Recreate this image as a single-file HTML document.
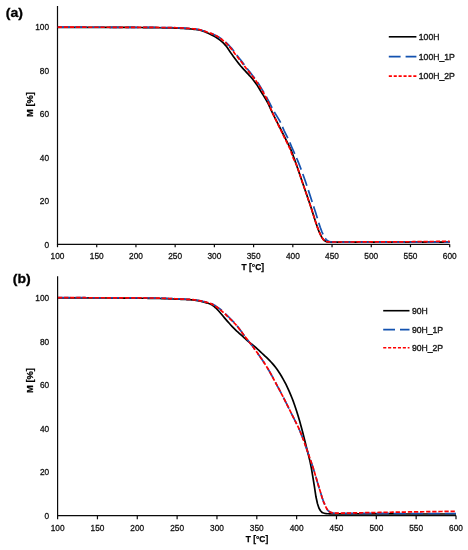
<!DOCTYPE html>
<html><head><meta charset="utf-8"><title>TGA curves</title>
<style>
html,body{margin:0;padding:0;background:#fff;}
svg{display:block}
text{font-family:"Liberation Sans",sans-serif;fill:#1a1a1a}
.tk{font-size:9.4px;fill:#111;stroke:#111;stroke-width:0.3px}
.lg{font-size:9.4px;stroke:#1a1a1a;stroke-width:0.4px}
.al{font-size:8.4px;font-weight:bold;fill:#000;stroke:#000;stroke-width:0.25px}
.yl{font-size:9.3px}
.tt{font-size:12.5px;font-weight:bold;fill:#000;stroke:#000;stroke-width:0.3px}
</style></head>
<body>
<svg width="468" height="550" viewBox="0 0 468 550">
<rect width="468" height="550" fill="#fff"/>
<path d="M57.5 6.1 V244.3 H449.7" fill="none" stroke="#0a0a0a" stroke-width="1.2"/>
<path d="M57.50 244.3 v2.9" stroke="#0a0a0a" stroke-width="1.2"/>
<text class="tk" transform="translate(57.50 258.9) scale(0.885 1)" text-anchor="middle">100</text>
<path d="M96.72 244.3 v2.9" stroke="#0a0a0a" stroke-width="1.2"/>
<text class="tk" transform="translate(96.72 258.9) scale(0.885 1)" text-anchor="middle">150</text>
<path d="M135.94 244.3 v2.9" stroke="#0a0a0a" stroke-width="1.2"/>
<text class="tk" transform="translate(135.94 258.9) scale(0.885 1)" text-anchor="middle">200</text>
<path d="M175.16 244.3 v2.9" stroke="#0a0a0a" stroke-width="1.2"/>
<text class="tk" transform="translate(175.16 258.9) scale(0.885 1)" text-anchor="middle">250</text>
<path d="M214.38 244.3 v2.9" stroke="#0a0a0a" stroke-width="1.2"/>
<text class="tk" transform="translate(214.38 258.9) scale(0.885 1)" text-anchor="middle">300</text>
<path d="M253.60 244.3 v2.9" stroke="#0a0a0a" stroke-width="1.2"/>
<text class="tk" transform="translate(253.60 258.9) scale(0.885 1)" text-anchor="middle">350</text>
<path d="M292.82 244.3 v2.9" stroke="#0a0a0a" stroke-width="1.2"/>
<text class="tk" transform="translate(292.82 258.9) scale(0.885 1)" text-anchor="middle">400</text>
<path d="M332.04 244.3 v2.9" stroke="#0a0a0a" stroke-width="1.2"/>
<text class="tk" transform="translate(332.04 258.9) scale(0.885 1)" text-anchor="middle">450</text>
<path d="M371.26 244.3 v2.9" stroke="#0a0a0a" stroke-width="1.2"/>
<text class="tk" transform="translate(371.26 258.9) scale(0.885 1)" text-anchor="middle">500</text>
<path d="M410.48 244.3 v2.9" stroke="#0a0a0a" stroke-width="1.2"/>
<text class="tk" transform="translate(410.48 258.9) scale(0.885 1)" text-anchor="middle">550</text>
<path d="M449.70 244.3 v2.9" stroke="#0a0a0a" stroke-width="1.2"/>
<text class="tk" transform="translate(449.70 258.9) scale(0.885 1)" text-anchor="middle">600</text>
<text class="tk" transform="translate(49.10 247.50) scale(0.885 1)" text-anchor="end">0</text>
<text class="tk" transform="translate(49.10 204.06) scale(0.885 1)" text-anchor="end">20</text>
<text class="tk" transform="translate(49.10 160.62) scale(0.885 1)" text-anchor="end">40</text>
<text class="tk" transform="translate(49.10 117.18) scale(0.885 1)" text-anchor="end">60</text>
<text class="tk" transform="translate(49.10 73.74) scale(0.885 1)" text-anchor="end">80</text>
<text class="tk" transform="translate(49.10 30.30) scale(0.885 1)" text-anchor="end">100</text>
<path d="M57.7 27.30 L59.2 27.30 L60.7 27.30 L62.2 27.30 L63.7 27.30 L65.2 27.30 L66.7 27.30 L68.2 27.30 L69.7 27.30 L71.2 27.31 L72.7 27.31 L74.2 27.31 L75.7 27.31 L77.2 27.31 L78.7 27.31 L80.2 27.31 L81.7 27.32 L83.2 27.32 L84.7 27.32 L86.2 27.32 L87.7 27.33 L89.2 27.33 L90.7 27.33 L92.2 27.33 L93.7 27.34 L95.2 27.34 L96.7 27.34 L98.2 27.35 L99.7 27.35 L101.2 27.35 L102.7 27.36 L104.2 27.36 L105.7 27.36 L107.2 27.37 L108.7 27.37 L110.2 27.37 L111.7 27.38 L113.2 27.38 L114.7 27.39 L116.2 27.39 L117.7 27.39 L119.2 27.40 L120.7 27.40 L122.2 27.41 L123.7 27.41 L125.2 27.42 L126.7 27.42 L128.2 27.43 L129.7 27.44 L131.2 27.45 L132.7 27.46 L134.2 27.47 L135.7 27.48 L137.2 27.49 L138.7 27.50 L140.2 27.51 L141.7 27.52 L143.2 27.54 L144.7 27.55 L146.2 27.56 L147.7 27.58 L149.2 27.60 L150.7 27.61 L152.2 27.63 L153.7 27.65 L155.2 27.67 L156.7 27.69 L158.2 27.71 L159.7 27.73 L161.2 27.75 L162.7 27.78 L164.2 27.80 L165.7 27.82 L167.2 27.85 L168.7 27.88 L170.2 27.90 L171.7 27.94 L173.2 27.98 L174.7 28.03 L176.2 28.08 L177.7 28.15 L179.2 28.22 L180.7 28.30 L182.2 28.38 L183.7 28.47 L185.2 28.57 L186.7 28.66 L188.2 28.77 L189.7 28.88 L191.2 28.99 L192.7 29.13 L194.2 29.29 L195.7 29.47 L197.2 29.69 L198.7 29.94 L200.2 30.28 L201.7 30.72 L203.2 31.25 L204.7 31.83 L206.2 32.43 L207.7 33.05 L209.2 33.70 L210.7 34.40 L212.2 35.16 L213.7 35.98 L215.2 36.86 L216.7 37.80 L218.2 38.82 L219.7 39.93 L221.2 41.14 L222.7 42.46 L224.2 43.90 L225.7 45.58 L227.2 47.55 L228.7 49.69 L230.2 51.91 L231.7 54.11 L233.2 56.18 L234.7 58.20 L236.2 60.20 L237.7 62.19 L239.2 64.12 L240.7 65.96 L242.2 67.67 L243.7 69.32 L245.2 70.95 L246.7 72.59 L248.2 74.19 L249.7 75.81 L251.2 77.52 L252.7 79.31 L254.2 81.19 L255.7 83.18 L257.2 85.33 L258.7 87.72 L260.2 90.23 L261.7 92.74 L263.2 95.14 L264.7 97.52 L266.2 100.01 L267.7 102.76 L269.2 105.93 L270.7 109.22 L272.2 112.34 L273.7 115.35 L275.2 118.33 L276.7 121.30 L278.2 124.28 L279.7 127.25 L281.2 130.21 L282.7 133.20 L284.2 136.19 L285.7 139.20 L287.2 142.17 L288.7 145.03 L290.2 148.07 L291.7 151.61 L293.2 155.70 L294.7 159.89 L296.2 164.17 L297.7 168.52 L299.2 172.90 L300.7 177.30 L302.2 181.69 L303.7 186.06 L305.2 190.42 L306.7 194.79 L308.2 199.16 L309.7 203.55 L311.2 208.00 L312.7 212.67 L314.2 217.45 L315.7 222.16 L317.2 226.60 L318.7 230.60 L320.2 234.13 L321.7 237.25 L323.2 239.31 L324.7 240.81 L326.2 241.54 L327.7 241.81 L329.2 242.00 L330.7 242.09 L332.2 242.10 L333.7 242.11 L335.2 242.11 L336.7 242.11 L338.2 242.12 L339.7 242.12 L341.2 242.12 L342.7 242.13 L344.2 242.13 L345.7 242.13 L347.2 242.13 L348.7 242.14 L350.2 242.14 L351.7 242.14 L353.2 242.14 L354.7 242.15 L356.2 242.15 L357.7 242.15 L359.2 242.15 L360.7 242.16 L362.2 242.16 L363.7 242.16 L365.2 242.16 L366.7 242.16 L368.2 242.17 L369.7 242.17 L371.2 242.17 L372.7 242.17 L374.2 242.17 L375.7 242.17 L377.2 242.17 L378.7 242.18 L380.2 242.18 L381.7 242.18 L383.2 242.18 L384.7 242.18 L386.2 242.18 L387.7 242.18 L389.2 242.18 L390.7 242.19 L392.2 242.19 L393.7 242.19 L395.2 242.19 L396.7 242.19 L398.2 242.19 L399.7 242.19 L401.2 242.19 L402.7 242.19 L404.2 242.19 L405.7 242.19 L407.2 242.19 L408.7 242.19 L410.2 242.20 L411.7 242.20 L413.2 242.20 L414.7 242.20 L416.2 242.20 L417.7 242.20 L419.2 242.20 L420.7 242.20 L422.2 242.20 L423.7 242.20 L425.2 242.20 L426.7 242.20 L428.2 242.20 L429.7 242.20 L431.2 242.20 L432.7 242.20 L434.2 242.20 L435.7 242.20 L437.2 242.20 L438.7 242.20 L440.2 242.20 L441.7 242.20 L443.2 242.20 L444.7 242.20 L446.2 242.20 L447.7 242.20 L449.2 242.20 L449.7 242.20" fill="none" stroke="#000" stroke-width="1.7" stroke-linejoin="round"/>
<path d="M57.7 27.20 L59.2 27.20 L60.7 27.20 L62.2 27.20 L63.7 27.20 L65.2 27.20 L66.7 27.20 L68.2 27.20 L69.7 27.20 L71.2 27.21 L72.7 27.21 L74.2 27.21 L75.7 27.21 L77.2 27.21 L78.7 27.21 L80.2 27.22 L81.7 27.22 L83.2 27.22 L84.7 27.22 L86.2 27.23 L87.7 27.23 L89.2 27.23 L90.7 27.23 L92.2 27.24 L93.7 27.24 L95.2 27.24 L96.7 27.24 L98.2 27.25 L99.7 27.25 L101.2 27.25 L102.7 27.26 L104.2 27.26 L105.7 27.26 L107.2 27.27 L108.7 27.27 L110.2 27.28 L111.7 27.28 L113.2 27.28 L114.7 27.29 L116.2 27.29 L117.7 27.29 L119.2 27.30 L120.7 27.30 L122.2 27.31 L123.7 27.31 L125.2 27.31 L126.7 27.32 L128.2 27.32 L129.7 27.33 L131.2 27.33 L132.7 27.34 L134.2 27.34 L135.7 27.35 L137.2 27.36 L138.7 27.36 L140.2 27.37 L141.7 27.38 L143.2 27.38 L144.7 27.39 L146.2 27.40 L147.7 27.41 L149.2 27.42 L150.7 27.43 L152.2 27.44 L153.7 27.45 L155.2 27.46 L156.7 27.47 L158.2 27.48 L159.7 27.49 L161.2 27.51 L162.7 27.52 L164.2 27.54 L165.7 27.55 L167.2 27.57 L168.7 27.58 L170.2 27.60 L171.7 27.63 L173.2 27.66 L174.7 27.70 L176.2 27.75 L177.7 27.81 L179.2 27.87 L180.7 27.94 L182.2 28.02 L183.7 28.10 L185.2 28.19 L186.7 28.28 L188.2 28.38 L189.7 28.48 L191.2 28.59 L192.7 28.73 L194.2 28.89 L195.7 29.08 L197.2 29.29 L198.7 29.53 L200.2 29.85 L201.7 30.24 L203.2 30.69 L204.7 31.19 L206.2 31.69 L207.7 32.20 L209.2 32.73 L210.7 33.28 L212.2 33.87 L213.7 34.51 L215.2 35.20 L216.7 35.97 L218.2 36.82 L219.7 37.75 L221.2 38.76 L222.7 39.84 L224.2 41.00 L225.7 42.25 L227.2 43.63 L228.7 45.11 L230.2 46.71 L231.7 48.41 L233.2 50.24 L234.7 52.39 L236.2 54.37 L237.7 56.28 L239.2 58.16 L240.7 60.09 L242.2 62.07 L243.7 64.06 L245.2 66.04 L246.7 68.00 L248.2 69.95 L249.7 71.89 L251.2 73.83 L252.7 75.73 L254.2 77.63 L255.7 79.59 L257.2 81.71 L258.7 83.99 L260.2 86.38 L261.7 88.83 L263.2 91.35 L264.7 93.94 L266.2 96.59 L267.7 99.32 L269.2 102.15 L270.7 105.11 L272.2 108.06 L273.7 110.88 L275.2 113.47 L276.7 115.90 L278.2 118.33 L279.7 120.91 L281.2 123.81 L282.7 127.37 L284.2 130.87 L285.7 133.93 L287.2 136.87 L288.7 139.93 L290.2 143.36 L291.7 146.97 L293.2 150.40 L294.7 153.77 L296.2 157.15 L297.7 160.60 L299.2 164.34 L300.7 168.27 L302.2 172.33 L303.7 176.50 L305.2 180.83 L306.7 185.30 L308.2 189.81 L309.7 194.38 L311.2 198.99 L312.7 203.61 L314.2 208.23 L315.7 212.85 L317.2 217.71 L318.7 222.62 L320.2 227.26 L321.7 231.32 L323.2 234.87 L324.7 237.81 L326.2 239.54 L327.7 240.86 L329.2 241.67 L330.7 241.89 L332.2 242.01 L333.7 242.08 L335.2 242.10 L336.7 242.10 L338.2 242.10 L339.7 242.10 L341.2 242.10 L342.7 242.10 L344.2 242.10 L345.7 242.10 L347.2 242.10 L348.7 242.10 L350.2 242.10 L351.7 242.10 L353.2 242.10 L354.7 242.10 L356.2 242.10 L357.7 242.10 L359.2 242.10 L360.7 242.10 L362.2 242.10 L363.7 242.10 L365.2 242.10 L366.7 242.10 L368.2 242.10 L369.7 242.10 L371.2 242.10 L372.7 242.10 L374.2 242.10 L375.7 242.10 L377.2 242.10 L378.7 242.10 L380.2 242.10 L381.7 242.10 L383.2 242.10 L384.7 242.10 L386.2 242.10 L387.7 242.10 L389.2 242.10 L390.7 242.10 L392.2 242.10 L393.7 242.10 L395.2 242.10 L396.7 242.10 L398.2 242.10 L399.7 242.10 L401.2 242.10 L402.7 242.10 L404.2 242.10 L405.7 242.10 L407.2 242.10 L408.7 242.10 L410.2 242.10 L411.7 242.10 L413.2 242.10 L414.7 242.10 L416.2 242.10 L417.7 242.10 L419.2 242.10 L420.7 242.10 L422.2 242.10 L423.7 242.10 L425.2 242.10 L426.7 242.10 L428.2 242.10 L429.7 242.10 L431.2 242.10 L432.7 242.10 L434.2 242.10 L435.7 242.10 L437.2 242.10 L438.7 242.10 L440.2 242.10 L441.7 242.10 L443.2 242.10 L444.7 242.10 L446.2 242.10 L447.7 242.10 L449.2 242.10 L449.7 242.10" fill="none" stroke="#1352b0" stroke-width="1.7" stroke-dasharray="12.5 4.6" stroke-linejoin="round"/>
<path d="M57.7 27.20 L59.2 27.20 L60.7 27.20 L62.2 27.20 L63.7 27.20 L65.2 27.20 L66.7 27.20 L68.2 27.20 L69.7 27.20 L71.2 27.21 L72.7 27.21 L74.2 27.21 L75.7 27.21 L77.2 27.21 L78.7 27.21 L80.2 27.22 L81.7 27.22 L83.2 27.22 L84.7 27.22 L86.2 27.23 L87.7 27.23 L89.2 27.23 L90.7 27.23 L92.2 27.24 L93.7 27.24 L95.2 27.24 L96.7 27.24 L98.2 27.25 L99.7 27.25 L101.2 27.25 L102.7 27.26 L104.2 27.26 L105.7 27.26 L107.2 27.27 L108.7 27.27 L110.2 27.28 L111.7 27.28 L113.2 27.28 L114.7 27.29 L116.2 27.29 L117.7 27.29 L119.2 27.30 L120.7 27.30 L122.2 27.31 L123.7 27.31 L125.2 27.31 L126.7 27.32 L128.2 27.32 L129.7 27.33 L131.2 27.33 L132.7 27.34 L134.2 27.34 L135.7 27.35 L137.2 27.36 L138.7 27.36 L140.2 27.37 L141.7 27.38 L143.2 27.38 L144.7 27.39 L146.2 27.40 L147.7 27.41 L149.2 27.42 L150.7 27.43 L152.2 27.44 L153.7 27.45 L155.2 27.46 L156.7 27.47 L158.2 27.48 L159.7 27.49 L161.2 27.51 L162.7 27.52 L164.2 27.54 L165.7 27.55 L167.2 27.57 L168.7 27.58 L170.2 27.60 L171.7 27.63 L173.2 27.66 L174.7 27.70 L176.2 27.75 L177.7 27.81 L179.2 27.87 L180.7 27.94 L182.2 28.02 L183.7 28.10 L185.2 28.19 L186.7 28.28 L188.2 28.38 L189.7 28.48 L191.2 28.59 L192.7 28.73 L194.2 28.89 L195.7 29.08 L197.2 29.29 L198.7 29.53 L200.2 29.85 L201.7 30.24 L203.2 30.69 L204.7 31.19 L206.2 31.69 L207.7 32.20 L209.2 32.72 L210.7 33.27 L212.2 33.86 L213.7 34.50 L215.2 35.20 L216.7 35.99 L218.2 36.89 L219.7 37.89 L221.2 38.99 L222.7 40.16 L224.2 41.40 L225.7 42.75 L227.2 44.24 L228.7 45.85 L230.2 47.57 L231.7 49.36 L233.2 51.26 L234.7 53.39 L236.2 55.37 L237.7 57.28 L239.2 59.16 L240.7 61.09 L242.2 63.07 L243.7 65.06 L245.2 67.04 L246.7 69.00 L248.2 70.95 L249.7 72.89 L251.2 74.83 L252.7 76.73 L254.2 78.61 L255.7 80.58 L257.2 82.73 L258.7 85.06 L260.2 87.51 L261.7 90.03 L263.2 92.54 L264.7 95.08 L266.2 97.81 L267.7 100.89 L269.2 104.60 L270.7 108.51 L272.2 112.07 L273.7 115.37 L275.2 118.56 L276.7 121.71 L278.2 124.83 L279.7 127.91 L281.2 130.97 L282.7 134.05 L284.2 137.12 L285.7 140.19 L287.2 143.17 L288.7 146.11 L290.2 149.40 L291.7 153.68 L293.2 158.02 L294.7 161.06 L296.2 164.07 L297.7 168.00 L299.2 172.48 L300.7 177.16 L302.2 181.69 L303.7 186.06 L305.2 190.42 L306.7 194.79 L308.2 199.16 L309.7 203.55 L311.2 208.00 L312.7 212.67 L314.2 217.45 L315.7 222.16 L317.2 226.60 L318.7 230.60 L320.2 234.13 L321.7 237.25 L323.2 239.31 L324.7 240.83 L326.2 241.54 L327.7 241.77 L329.2 241.92 L330.7 241.99 L332.2 242.00 L333.7 242.00 L335.2 242.00 L336.7 242.00 L338.2 242.00 L339.7 242.00 L341.2 241.99 L342.7 241.99 L344.2 241.99 L345.7 241.99 L347.2 241.99 L348.7 241.98 L350.2 241.98 L351.7 241.98 L353.2 241.97 L354.7 241.97 L356.2 241.97 L357.7 241.96 L359.2 241.96 L360.7 241.95 L362.2 241.95 L363.7 241.95 L365.2 241.94 L366.7 241.94 L368.2 241.93 L369.7 241.93 L371.2 241.92 L372.7 241.92 L374.2 241.91 L375.7 241.90 L377.2 241.90 L378.7 241.89 L380.2 241.89 L381.7 241.88 L383.2 241.87 L384.7 241.87 L386.2 241.86 L387.7 241.86 L389.2 241.85 L390.7 241.84 L392.2 241.84 L393.7 241.83 L395.2 241.82 L396.7 241.82 L398.2 241.81 L399.7 241.80 L401.2 241.79 L402.7 241.79 L404.2 241.78 L405.7 241.77 L407.2 241.76 L408.7 241.75 L410.2 241.74 L411.7 241.73 L413.2 241.71 L414.7 241.70 L416.2 241.69 L417.7 241.67 L419.2 241.66 L420.7 241.64 L422.2 241.63 L423.7 241.61 L425.2 241.60 L426.7 241.58 L428.2 241.57 L429.7 241.55 L431.2 241.53 L432.7 241.51 L434.2 241.50 L435.7 241.48 L437.2 241.46 L438.7 241.44 L440.2 241.42 L441.7 241.40 L443.2 241.38 L444.7 241.36 L446.2 241.35 L447.7 241.33 L449.2 241.31 L449.7 241.30" fill="none" stroke="#ff0000" stroke-width="1.7" stroke-dasharray="4.3 1.8" stroke-linejoin="round"/>
<path d="M388.8 36.8 H416.4" stroke="#000" stroke-width="1.6"/>
<text class="lg" transform="translate(418.8 39.70) scale(0.92 1)">100H</text>
<path d="M388.8 56.6 H416.4" stroke="#1352b0" stroke-width="1.6" stroke-dasharray="11.8 5"/>
<text class="lg" transform="translate(418.8 59.50) scale(0.92 1)">100H_1P</text>
<path d="M388.8 76.1 H416.4" stroke="#ff0000" stroke-width="1.6" stroke-dasharray="3.1 1.8"/>
<text class="lg" transform="translate(418.8 79.00) scale(0.92 1)">100H_2P</text>
<text class="tt" transform="translate(5.7 17.3) scale(1.125 1)">(a)</text>
<text class="al yl" transform="translate(33.1 104.5) rotate(-90) scale(1 0.95)" text-anchor="middle">M [%]</text>
<text class="al" x="252.8" y="270" text-anchor="middle">T [°C]</text>
<path d="M57.6 276.2 V515.6 H456" fill="none" stroke="#0a0a0a" stroke-width="1.2"/>
<path d="M57.60 515.6 v3.7" stroke="#0a0a0a" stroke-width="1.2"/>
<text class="tk" transform="translate(57.60 530.9) scale(0.885 1)" text-anchor="middle">100</text>
<path d="M97.44 515.6 v3.7" stroke="#0a0a0a" stroke-width="1.2"/>
<text class="tk" transform="translate(97.44 530.9) scale(0.885 1)" text-anchor="middle">150</text>
<path d="M137.28 515.6 v3.7" stroke="#0a0a0a" stroke-width="1.2"/>
<text class="tk" transform="translate(137.28 530.9) scale(0.885 1)" text-anchor="middle">200</text>
<path d="M177.12 515.6 v3.7" stroke="#0a0a0a" stroke-width="1.2"/>
<text class="tk" transform="translate(177.12 530.9) scale(0.885 1)" text-anchor="middle">250</text>
<path d="M216.96 515.6 v3.7" stroke="#0a0a0a" stroke-width="1.2"/>
<text class="tk" transform="translate(216.96 530.9) scale(0.885 1)" text-anchor="middle">300</text>
<path d="M256.80 515.6 v3.7" stroke="#0a0a0a" stroke-width="1.2"/>
<text class="tk" transform="translate(256.80 530.9) scale(0.885 1)" text-anchor="middle">350</text>
<path d="M296.64 515.6 v3.7" stroke="#0a0a0a" stroke-width="1.2"/>
<text class="tk" transform="translate(296.64 530.9) scale(0.885 1)" text-anchor="middle">400</text>
<path d="M336.48 515.6 v3.7" stroke="#0a0a0a" stroke-width="1.2"/>
<text class="tk" transform="translate(336.48 530.9) scale(0.885 1)" text-anchor="middle">450</text>
<path d="M376.32 515.6 v3.7" stroke="#0a0a0a" stroke-width="1.2"/>
<text class="tk" transform="translate(376.32 530.9) scale(0.885 1)" text-anchor="middle">500</text>
<path d="M416.16 515.6 v3.7" stroke="#0a0a0a" stroke-width="1.2"/>
<text class="tk" transform="translate(416.16 530.9) scale(0.885 1)" text-anchor="middle">550</text>
<path d="M456.00 515.6 v3.7" stroke="#0a0a0a" stroke-width="1.2"/>
<text class="tk" transform="translate(456.00 530.9) scale(0.885 1)" text-anchor="middle">600</text>
<text class="tk" transform="translate(49.20 518.80) scale(0.885 1)" text-anchor="end">0</text>
<text class="tk" transform="translate(49.20 475.24) scale(0.885 1)" text-anchor="end">20</text>
<text class="tk" transform="translate(49.20 431.68) scale(0.885 1)" text-anchor="end">40</text>
<text class="tk" transform="translate(49.20 388.12) scale(0.885 1)" text-anchor="end">60</text>
<text class="tk" transform="translate(49.20 344.56) scale(0.885 1)" text-anchor="end">80</text>
<text class="tk" transform="translate(49.20 301.00) scale(0.885 1)" text-anchor="end">100</text>
<path d="M58.0 297.90 L59.5 297.90 L61.0 297.90 L62.5 297.90 L64.0 297.90 L65.5 297.90 L67.0 297.90 L68.5 297.91 L70.0 297.91 L71.5 297.91 L73.0 297.91 L74.5 297.91 L76.0 297.92 L77.5 297.92 L79.0 297.92 L80.5 297.92 L82.0 297.93 L83.5 297.93 L85.0 297.93 L86.5 297.94 L88.0 297.94 L89.5 297.95 L91.0 297.95 L92.5 297.96 L94.0 297.96 L95.5 297.97 L97.0 297.97 L98.5 297.98 L100.0 297.98 L101.5 297.99 L103.0 298.00 L104.5 298.00 L106.0 298.01 L107.5 298.02 L109.0 298.02 L110.5 298.03 L112.0 298.04 L113.5 298.05 L115.0 298.05 L116.5 298.06 L118.0 298.07 L119.5 298.08 L121.0 298.09 L122.5 298.10 L124.0 298.11 L125.5 298.11 L127.0 298.12 L128.5 298.13 L130.0 298.14 L131.5 298.15 L133.0 298.17 L134.5 298.18 L136.0 298.19 L137.5 298.20 L139.0 298.21 L140.5 298.22 L142.0 298.23 L143.5 298.25 L145.0 298.26 L146.5 298.27 L148.0 298.28 L149.5 298.30 L151.0 298.31 L152.5 298.33 L154.0 298.35 L155.5 298.38 L157.0 298.41 L158.5 298.45 L160.0 298.49 L161.5 298.53 L163.0 298.58 L164.5 298.63 L166.0 298.68 L167.5 298.74 L169.0 298.80 L170.5 298.86 L172.0 298.92 L173.5 298.98 L175.0 299.05 L176.5 299.11 L178.0 299.18 L179.5 299.25 L181.0 299.32 L182.5 299.39 L184.0 299.45 L185.5 299.52 L187.0 299.59 L188.5 299.66 L190.0 299.75 L191.5 299.84 L193.0 299.96 L194.5 300.10 L196.0 300.31 L197.5 300.58 L199.0 300.88 L200.5 301.22 L202.0 301.58 L203.5 302.01 L205.0 302.50 L206.5 302.91 L208.0 303.30 L209.5 303.76 L211.0 304.38 L212.5 305.30 L214.0 306.45 L215.5 307.73 L217.0 309.14 L218.5 310.78 L220.0 312.53 L221.5 314.26 L223.0 316.03 L224.5 317.84 L226.0 319.62 L227.5 321.35 L229.0 323.04 L230.5 324.71 L232.0 326.31 L233.5 327.86 L235.0 329.37 L236.5 330.84 L238.0 332.24 L239.5 333.58 L241.0 334.89 L242.5 336.21 L244.0 337.58 L245.5 338.96 L247.0 340.32 L248.5 341.60 L250.0 342.81 L251.5 343.98 L253.0 345.15 L254.5 346.38 L256.0 347.69 L257.5 349.07 L259.0 350.46 L260.5 351.86 L262.0 353.25 L263.5 354.64 L265.0 356.01 L266.5 357.41 L268.0 358.90 L269.5 360.43 L271.0 362.00 L272.5 363.65 L274.0 365.40 L275.5 367.27 L277.0 369.29 L278.5 371.46 L280.0 373.77 L281.5 376.23 L283.0 378.83 L284.5 381.56 L286.0 384.47 L287.5 387.57 L289.0 390.87 L290.5 394.36 L292.0 398.03 L293.5 401.91 L295.0 406.17 L296.5 410.74 L298.0 415.52 L299.5 420.58 L301.0 425.93 L302.5 431.51 L304.0 437.39 L305.5 443.46 L307.0 449.47 L308.5 455.23 L310.0 461.42 L311.5 468.93 L313.0 477.93 L314.5 487.22 L316.0 497.04 L317.5 503.73 L319.0 508.21 L320.5 510.74 L322.0 512.39 L323.5 512.96 L325.0 513.33 L326.5 513.59 L328.0 513.75 L329.5 513.80 L331.0 513.81 L332.5 513.81 L334.0 513.82 L335.5 513.83 L337.0 513.83 L338.5 513.84 L340.0 513.84 L341.5 513.85 L343.0 513.85 L344.5 513.86 L346.0 513.86 L347.5 513.87 L349.0 513.87 L350.5 513.88 L352.0 513.88 L353.5 513.89 L355.0 513.89 L356.5 513.90 L358.0 513.90 L359.5 513.91 L361.0 513.91 L362.5 513.91 L364.0 513.92 L365.5 513.92 L367.0 513.92 L368.5 513.93 L370.0 513.93 L371.5 513.93 L373.0 513.94 L374.5 513.94 L376.0 513.94 L377.5 513.95 L379.0 513.95 L380.5 513.95 L382.0 513.95 L383.5 513.96 L385.0 513.96 L386.5 513.96 L388.0 513.96 L389.5 513.97 L391.0 513.97 L392.5 513.97 L394.0 513.97 L395.5 513.97 L397.0 513.98 L398.5 513.98 L400.0 513.98 L401.5 513.98 L403.0 513.98 L404.5 513.98 L406.0 513.98 L407.5 513.99 L409.0 513.99 L410.5 513.99 L412.0 513.99 L413.5 513.99 L415.0 513.99 L416.5 513.99 L418.0 513.99 L419.5 513.99 L421.0 513.99 L422.5 513.99 L424.0 513.99 L425.5 514.00 L427.0 514.00 L428.5 514.00 L430.0 514.00 L431.5 514.00 L433.0 514.00 L434.5 514.00 L436.0 514.00 L437.5 514.00 L439.0 514.00 L440.5 514.00 L442.0 514.00 L443.5 514.00 L445.0 514.00 L446.5 514.00 L448.0 514.00 L449.5 514.00 L451.0 514.00 L452.5 514.00 L454.0 514.00 L455.5 514.00 L456.0 514.00" fill="none" stroke="#000" stroke-width="1.7" stroke-linejoin="round"/>
<path d="M58.0 297.70 L59.5 297.70 L61.0 297.70 L62.5 297.70 L64.0 297.70 L65.5 297.70 L67.0 297.70 L68.5 297.70 L70.0 297.70 L71.5 297.71 L73.0 297.71 L74.5 297.71 L76.0 297.71 L77.5 297.71 L79.0 297.71 L80.5 297.72 L82.0 297.72 L83.5 297.72 L85.0 297.72 L86.5 297.73 L88.0 297.73 L89.5 297.73 L91.0 297.74 L92.5 297.74 L94.0 297.74 L95.5 297.75 L97.0 297.75 L98.5 297.76 L100.0 297.76 L101.5 297.76 L103.0 297.77 L104.5 297.77 L106.0 297.78 L107.5 297.78 L109.0 297.79 L110.5 297.79 L112.0 297.80 L113.5 297.81 L115.0 297.81 L116.5 297.82 L118.0 297.82 L119.5 297.83 L121.0 297.84 L122.5 297.84 L124.0 297.85 L125.5 297.86 L127.0 297.87 L128.5 297.87 L130.0 297.88 L131.5 297.89 L133.0 297.90 L134.5 297.90 L136.0 297.91 L137.5 297.92 L139.0 297.93 L140.5 297.94 L142.0 297.95 L143.5 297.96 L145.0 297.97 L146.5 297.98 L148.0 297.99 L149.5 298.00 L151.0 298.01 L152.5 298.02 L154.0 298.05 L155.5 298.07 L157.0 298.10 L158.5 298.14 L160.0 298.18 L161.5 298.22 L163.0 298.27 L164.5 298.32 L166.0 298.37 L167.5 298.43 L169.0 298.49 L170.5 298.55 L172.0 298.61 L173.5 298.68 L175.0 298.74 L176.5 298.81 L178.0 298.88 L179.5 298.95 L181.0 299.02 L182.5 299.08 L184.0 299.15 L185.5 299.22 L187.0 299.29 L188.5 299.37 L190.0 299.45 L191.5 299.54 L193.0 299.66 L194.5 299.80 L196.0 300.01 L197.5 300.27 L199.0 300.56 L200.5 300.87 L202.0 301.18 L203.5 301.48 L205.0 301.80 L206.5 302.13 L208.0 302.51 L209.5 302.94 L211.0 303.45 L212.5 304.11 L214.0 304.91 L215.5 305.84 L217.0 306.85 L218.5 307.90 L220.0 308.99 L221.5 310.20 L223.0 311.52 L224.5 312.92 L226.0 314.35 L227.5 315.81 L229.0 317.26 L230.5 318.75 L232.0 320.28 L233.5 321.86 L235.0 323.51 L236.5 325.24 L238.0 327.09 L239.5 329.07 L241.0 331.12 L242.5 333.19 L244.0 335.24 L245.5 337.21 L247.0 339.14 L248.5 341.05 L250.0 342.96 L251.5 344.89 L253.0 346.86 L254.5 348.89 L256.0 350.96 L257.5 353.07 L259.0 355.22 L260.5 357.38 L262.0 359.56 L263.5 361.78 L265.0 364.06 L266.5 366.43 L268.0 368.90 L269.5 371.50 L271.0 374.19 L272.5 376.94 L274.0 379.73 L275.5 382.52 L277.0 385.29 L278.5 388.10 L280.0 390.93 L281.5 393.78 L283.0 396.67 L284.5 399.59 L286.0 402.55 L287.5 405.55 L289.0 408.58 L290.5 411.63 L292.0 414.68 L293.5 417.70 L295.0 420.65 L296.5 423.61 L298.0 426.69 L299.5 430.00 L301.0 433.61 L302.5 437.48 L304.0 441.54 L305.5 445.72 L307.0 449.94 L308.5 454.19 L310.0 458.53 L311.5 462.99 L313.0 467.56 L314.5 472.28 L316.0 477.30 L317.5 482.46 L319.0 487.46 L320.5 492.33 L322.0 497.19 L323.5 501.55 L325.0 505.08 L326.5 508.30 L328.0 510.66 L329.5 511.76 L331.0 512.53 L332.5 513.03 L334.0 513.21 L335.5 513.26 L337.0 513.30 L338.5 513.34 L340.0 513.36 L341.5 513.38 L343.0 513.39 L344.5 513.40 L346.0 513.40 L347.5 513.41 L349.0 513.41 L350.5 513.41 L352.0 513.42 L353.5 513.42 L355.0 513.42 L356.5 513.42 L358.0 513.43 L359.5 513.43 L361.0 513.43 L362.5 513.43 L364.0 513.44 L365.5 513.44 L367.0 513.44 L368.5 513.44 L370.0 513.45 L371.5 513.45 L373.0 513.45 L374.5 513.45 L376.0 513.46 L377.5 513.46 L379.0 513.46 L380.5 513.46 L382.0 513.46 L383.5 513.47 L385.0 513.47 L386.5 513.47 L388.0 513.47 L389.5 513.47 L391.0 513.47 L392.5 513.47 L394.0 513.48 L395.5 513.48 L397.0 513.48 L398.5 513.48 L400.0 513.48 L401.5 513.48 L403.0 513.48 L404.5 513.48 L406.0 513.49 L407.5 513.49 L409.0 513.49 L410.5 513.49 L412.0 513.49 L413.5 513.49 L415.0 513.49 L416.5 513.49 L418.0 513.49 L419.5 513.49 L421.0 513.49 L422.5 513.49 L424.0 513.49 L425.5 513.50 L427.0 513.50 L428.5 513.50 L430.0 513.50 L431.5 513.50 L433.0 513.50 L434.5 513.50 L436.0 513.50 L437.5 513.50 L439.0 513.50 L440.5 513.50 L442.0 513.50 L443.5 513.50 L445.0 513.50 L446.5 513.50 L448.0 513.50 L449.5 513.50 L451.0 513.50 L452.5 513.50 L454.0 513.50 L455.5 513.50 L456.0 513.50" fill="none" stroke="#1352b0" stroke-width="1.7" stroke-dasharray="12.5 4.6" stroke-linejoin="round"/>
<path d="M58.0 297.70 L59.5 297.70 L61.0 297.70 L62.5 297.70 L64.0 297.70 L65.5 297.70 L67.0 297.70 L68.5 297.70 L70.0 297.70 L71.5 297.71 L73.0 297.71 L74.5 297.71 L76.0 297.71 L77.5 297.71 L79.0 297.71 L80.5 297.72 L82.0 297.72 L83.5 297.72 L85.0 297.72 L86.5 297.73 L88.0 297.73 L89.5 297.73 L91.0 297.74 L92.5 297.74 L94.0 297.74 L95.5 297.75 L97.0 297.75 L98.5 297.76 L100.0 297.76 L101.5 297.76 L103.0 297.77 L104.5 297.77 L106.0 297.78 L107.5 297.78 L109.0 297.79 L110.5 297.79 L112.0 297.80 L113.5 297.81 L115.0 297.81 L116.5 297.82 L118.0 297.82 L119.5 297.83 L121.0 297.84 L122.5 297.84 L124.0 297.85 L125.5 297.86 L127.0 297.87 L128.5 297.87 L130.0 297.88 L131.5 297.89 L133.0 297.90 L134.5 297.90 L136.0 297.91 L137.5 297.92 L139.0 297.93 L140.5 297.94 L142.0 297.95 L143.5 297.96 L145.0 297.97 L146.5 297.98 L148.0 297.99 L149.5 298.00 L151.0 298.01 L152.5 298.02 L154.0 298.05 L155.5 298.07 L157.0 298.10 L158.5 298.14 L160.0 298.18 L161.5 298.22 L163.0 298.27 L164.5 298.32 L166.0 298.37 L167.5 298.43 L169.0 298.49 L170.5 298.55 L172.0 298.61 L173.5 298.68 L175.0 298.74 L176.5 298.81 L178.0 298.88 L179.5 298.95 L181.0 299.02 L182.5 299.08 L184.0 299.15 L185.5 299.22 L187.0 299.29 L188.5 299.37 L190.0 299.45 L191.5 299.54 L193.0 299.66 L194.5 299.80 L196.0 300.01 L197.5 300.26 L199.0 300.55 L200.5 300.86 L202.0 301.18 L203.5 301.50 L205.0 301.84 L206.5 302.21 L208.0 302.63 L209.5 303.11 L211.0 303.66 L212.5 304.37 L214.0 305.23 L215.5 306.21 L217.0 307.27 L218.5 308.38 L220.0 309.51 L221.5 310.76 L223.0 312.11 L224.5 313.52 L226.0 314.97 L227.5 316.41 L229.0 317.83 L230.5 319.26 L232.0 320.70 L233.5 322.20 L235.0 323.77 L236.5 325.43 L238.0 327.23 L239.5 329.17 L241.0 331.18 L242.5 333.23 L244.0 335.25 L245.5 337.21 L247.0 339.13 L248.5 341.04 L250.0 342.95 L251.5 344.89 L253.0 346.86 L254.5 348.89 L256.0 350.96 L257.5 353.07 L259.0 355.22 L260.5 357.38 L262.0 359.56 L263.5 361.78 L265.0 364.06 L266.5 366.43 L268.0 368.90 L269.5 371.50 L271.0 374.19 L272.5 376.94 L274.0 379.73 L275.5 382.52 L277.0 385.29 L278.5 388.10 L280.0 390.93 L281.5 393.78 L283.0 396.67 L284.5 399.59 L286.0 402.55 L287.5 405.55 L289.0 408.58 L290.5 411.63 L292.0 414.68 L293.5 417.70 L295.0 420.65 L296.5 423.61 L298.0 426.69 L299.5 430.00 L301.0 433.61 L302.5 437.48 L304.0 441.54 L305.5 445.72 L307.0 449.94 L308.5 454.19 L310.0 458.53 L311.5 462.99 L313.0 467.56 L314.5 472.28 L316.0 477.30 L317.5 482.46 L319.0 487.46 L320.5 492.33 L322.0 497.19 L323.5 501.55 L325.0 505.08 L326.5 508.33 L328.0 510.69 L329.5 511.71 L331.0 512.41 L332.5 512.86 L334.0 513.01 L335.5 513.03 L337.0 513.05 L338.5 513.07 L340.0 513.08 L341.5 513.09 L343.0 513.10 L344.5 513.10 L346.0 513.10 L347.5 513.08 L349.0 513.06 L350.5 513.03 L352.0 513.00 L353.5 512.96 L355.0 512.92 L356.5 512.88 L358.0 512.84 L359.5 512.81 L361.0 512.78 L362.5 512.75 L364.0 512.72 L365.5 512.70 L367.0 512.67 L368.5 512.64 L370.0 512.61 L371.5 512.59 L373.0 512.56 L374.5 512.53 L376.0 512.51 L377.5 512.48 L379.0 512.45 L380.5 512.43 L382.0 512.40 L383.5 512.37 L385.0 512.35 L386.5 512.32 L388.0 512.30 L389.5 512.27 L391.0 512.25 L392.5 512.22 L394.0 512.20 L395.5 512.17 L397.0 512.15 L398.5 512.12 L400.0 512.10 L401.5 512.08 L403.0 512.05 L404.5 512.03 L406.0 512.01 L407.5 511.98 L409.0 511.96 L410.5 511.94 L412.0 511.91 L413.5 511.89 L415.0 511.87 L416.5 511.85 L418.0 511.82 L419.5 511.80 L421.0 511.78 L422.5 511.76 L424.0 511.73 L425.5 511.71 L427.0 511.69 L428.5 511.67 L430.0 511.65 L431.5 511.63 L433.0 511.61 L434.5 511.58 L436.0 511.56 L437.5 511.54 L439.0 511.52 L440.5 511.50 L442.0 511.48 L443.5 511.46 L445.0 511.44 L446.5 511.42 L448.0 511.40 L449.5 511.38 L451.0 511.36 L452.5 511.34 L454.0 511.32 L455.5 511.31 L456.0 511.30" fill="none" stroke="#ff0000" stroke-width="1.7" stroke-dasharray="4.3 1.8" stroke-linejoin="round"/>
<path d="M383.2 310.7 H409.5" stroke="#000" stroke-width="1.6"/>
<text class="lg" transform="translate(411.9 313.60) scale(0.92 1)">90H</text>
<path d="M383.2 329.6 H409.5" stroke="#1352b0" stroke-width="1.6" stroke-dasharray="11.8 5"/>
<text class="lg" transform="translate(411.9 332.50) scale(0.92 1)">90H_1P</text>
<path d="M383.2 347.8 H409.5" stroke="#ff0000" stroke-width="1.6" stroke-dasharray="3.1 1.8"/>
<text class="lg" transform="translate(411.9 350.70) scale(0.92 1)">90H_2P</text>
<text class="tt" transform="translate(12.8 283.3) scale(1.125 1)">(b)</text>
<text class="al yl" transform="translate(32.7 380.5) rotate(-90) scale(1 0.95)" text-anchor="middle">M [%]</text>
<text class="al" x="257" y="542" text-anchor="middle">T [°C]</text>
</svg>
</body></html>
